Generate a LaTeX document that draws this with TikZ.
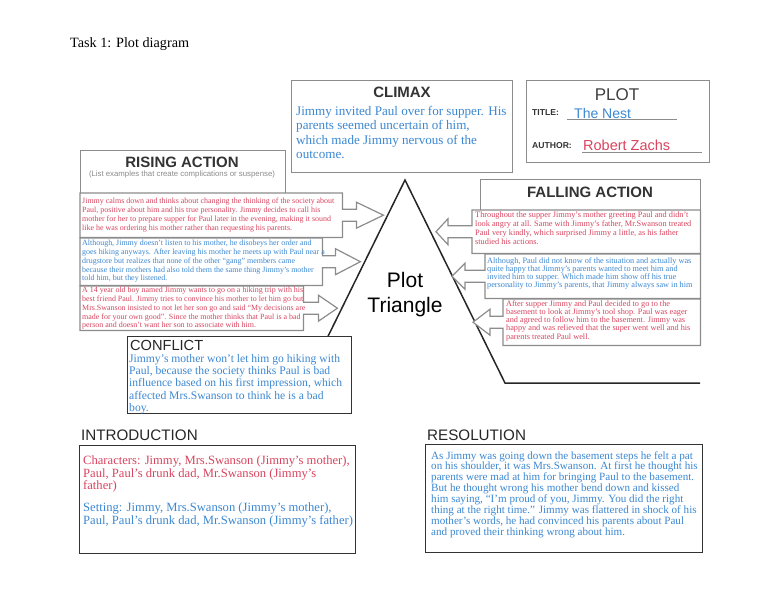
\documentclass[tikz,border=0pt]{standalone}
\usepackage{fontspec}
\setmainfont{Liberation Serif}
\setsansfont{Liberation Sans}
\usetikzlibrary{calc}
\definecolor{tred}{HTML}{D8445E}
\definecolor{tblue}{HTML}{3C88D2}
\definecolor{bgray}{HTML}{8C8C8C}
\definecolor{hgray}{HTML}{333333}
\newcommand\rcall[3]{%
 \draw[gline] (#1.north west) -- (#1.north east) -- ($(#1.east)+(0,-6)$) -- ++(#2,0) -- ++(0,-7) -- ($(#1.east)+(#2+#3,0)$) -- ($(#1.east)+(#2,13)$) -- ++(0,-7) -- ($(#1.east)+(0,6)$) -- (#1.south east) -- (#1.south west) -- cycle;}
\newcommand\lcall[3]{%
 \draw[gline] (#1.north east) -- (#1.north west) -- ($(#1.west)+(0,-6)$) -- ++(-#2,0) -- ++(0,-7) -- ($(#1.west)+(-#2-#3,0)$) -- ($(#1.west)+(-#2,13)$) -- ++(0,-7) -- ($(#1.west)+(0,6)$) -- (#1.south west) -- (#1.south east) -- cycle;}
\begin{document}
\begin{tikzpicture}[x=1pt,y=-1pt,
  gbox/.style={draw=bgray, line width=1.2pt, fill=white, anchor=north west, inner sep=0pt},
  gline/.style={draw=bgray, line width=1.2pt, fill=white},
  kbox/.style={draw=black!80, line width=1.4pt, fill=white, anchor=north west, inner sep=0pt},
  hole/.style={draw=none, anchor=north west, inner sep=0pt},
  txt/.style={anchor=north west, align=left, inner sep=0pt},
  head/.style={font=\sffamily\bfseries\fontsize{15}{15}\selectfont, text=hgray, inner sep=0pt},
  lab/.style={font=\sffamily\fontsize{15.2}{15}\selectfont, text=black!85, inner sep=0pt, anchor=base west},
  tri/.style={draw=black!85, line width=1.5pt},
]
\useasboundingbox (0,0) rectangle (768,594);

\node[anchor=base west, inner sep=0pt, font=\fontsize{14.2}{16}\selectfont] (title) at (70,48) {Task 1: Plot diagram};

% triangle
\coordinate (apex) at (405,180);
\coordinate (lb) at (305,383);
\coordinate (rb) at (505,383);
\coordinate (re) at (700,383);
\draw[tri] (lb) -- (apex) -- (rb) -- (re);
\node[align=center, inner sep=0pt, font=\sffamily\fontsize{21}{25}\selectfont] (ptri) at (405,295) {Plot\\Triangle};

% climax
\node[gbox, minimum width=221pt, minimum height=92pt] (climax) at (291,80) {};
\node[head] (climaxh) at (402,92) {CLIMAX};
\node[txt, text=tblue, font=\fontsize{13.1}{14.5}\selectfont] (climaxt) at (296,106) {Jimmy invited Paul over for supper. His\\parents seemed uncertain of him,\\which made Jimmy nervous of the\\outcome.};

% plot box
\node[gbox, minimum width=183pt, minimum height=82pt] (plotbox) at (526,80) {};
\node[inner sep=0pt, font=\sffamily\fontsize{17}{17}\selectfont, text=black!75] (plot) at (617,95) {PLOT};
\node[anchor=west, inner sep=0pt, font=\sffamily\bfseries\fontsize{8.6}{9}\selectfont, text=hgray] (ttl) at (532,113) {TITLE:};
\node[anchor=west, inner sep=0pt, font=\sffamily\fontsize{14}{14}\selectfont, text=tblue] (tnest) at (574,113) {The Nest};
\coordinate (u1a) at (567,119); \coordinate (u1b) at (677,119);
\draw[bgray, line width=0.9pt] (u1a) -- (u1b);
\node[anchor=west, inner sep=0pt, font=\sffamily\bfseries\fontsize{8.6}{9}\selectfont, text=hgray] (auth) at (532,146) {AUTHOR:};
\node[anchor=west, inner sep=0pt, font=\sffamily\fontsize{14.5}{14}\selectfont, text=tred] (rz) at (583,145) {Robert Zachs};
\coordinate (u2a) at (582,152); \coordinate (u2b) at (702,152);
\draw[bgray, line width=0.9pt] (u2a) -- (u2b);

% rising action
\node[gbox, minimum width=205pt, minimum height=43pt] (rhead) at (80,150) {};
\node[head] (rheadt) at (182,162) {RISING ACTION};
\node[inner sep=0pt, font=\sffamily\fontsize{7.8}{8}\selectfont, text=black!45] (rsub) at (182,174) {(List examples that create complications or suspense)};

\node[hole, minimum width=262pt, minimum height=44pt] (r1) at (80,193) {};
\rcall{r1}{14}{27}
\node[txt, text=tred, font=\fontsize{7.95}{9}\selectfont] (r1t) at (82,198) {Jimmy calms down and thinks about changing the thinking of the society about\\Paul, positive about him and his true personality. Jimmy decides to call his\\mother for her to prepare supper for Paul later in the evening, making it sound\\like he was ordering his mother rather than requesting his parents.};

\node[hole, minimum width=242pt, minimum height=47pt] (r2) at (80,238) {};
\rcall{r2}{13}{25}
\node[txt, text=tblue, font=\fontsize{7.95}{8.8}\selectfont] (r2t) at (82,240) {Although, Jimmy doesn’t listen to his mother, he disobeys her order and\\goes hiking anyways. After leaving his mother he meets up with Paul near a\\drugstore but realizes that none of the other “gang” members came\\because their mothers had also told them the same thing Jimmy’s mother\\told him, but they listened.};

\node[hole, minimum width=223pt, minimum height=44pt] (r3) at (80,286) {};
\rcall{r3}{15}{19}
\node[txt, text=tred, font=\fontsize{7.95}{8.8}\selectfont] (r3t) at (82,287) {A 14 year old boy named Jimmy wants to go on a hiking trip with his\\best friend Paul. Jimmy tries to convince his mother to let him go but\\Mrs.Swanson insisted to not let her son go and said “My decisions are\\made for your own good”. Since the mother thinks that Paul is a bad\\person and doesn’t want her son to associate with him.};

% falling action
\node[gbox, minimum width=220pt, minimum height=31pt] (fhead) at (480,179) {};
\node[head] (fheadt) at (590,192) {FALLING ACTION};

\node[hole, minimum width=228pt, minimum height=43pt] (f1) at (472,210) {};
\lcall{f1}{24}{12}
\node[txt, text=tred, font=\fontsize{8.3}{9}\selectfont] (f1t) at (475,212) {Throughout the supper Jimmy’s mother greeting Paul and didn’t\\look angry at all. Same with  Jimmy’s father, Mr.Swanson treated\\Paul very kindly, which surprised Jimmy a little, as his father\\studied his actions.};

\node[hole, minimum width=215pt, minimum height=44pt] (f2) at (485,254) {};
\lcall{f2}{20}{13}
\node[txt, text=tblue, font=\fontsize{8.25}{8.3}\selectfont] (f2t) at (487,257) {Although, Paul did not know of the situation and actually was\\quite happy that Jimmy’s parents wanted to meet him and\\invited him to supper. Which made him show off his true\\personality to Jimmy’s parents, that Jimmy always saw in him};

\node[hole, minimum width=197pt, minimum height=46pt] (f3) at (503,299) {};
\lcall{f3}{13}{17}
\node[txt, text=tred, font=\fontsize{8.25}{8.3}\selectfont] (f3t) at (506,300) {After supper Jimmy and Paul decided to go to the\\basement to look at Jimmy’s tool shop. Paul was eager\\and agreed to follow him to the basement. Jimmy was\\happy and was relieved that the super went well and his\\parents treated Paul well.};

% conflict
\node[kbox, minimum width=224pt, minimum height=77pt] (conf) at (127,336) {};
\node[lab, font=\sffamily\fontsize{14.6}{15}\selectfont] (confh) at (130,350) {CONFLICT};
\node[txt, text=tblue, font=\fontsize{11.6}{12.1}\selectfont] (conft) at (129,354.5) {Jimmy’s mother won’t let him go hiking with\\Paul, because the society thinks Paul is bad\\influence based on his first impression, which\\affected Mrs.Swanson to think he is a bad\\boy.};

% introduction
\node[lab] (introh) at (81,440) {INTRODUCTION};
\node[kbox, minimum width=276pt, minimum height=108pt] (intro) at (79,445) {};
\node[txt, text=tred, font=\fontsize{12.6}{12.2}\selectfont] (introa) at (83,456) {Characters: Jimmy, Mrs.Swanson (Jimmy’s mother),\\Paul, Paul’s drunk dad, Mr.Swanson (Jimmy’s\\father)};
\node[txt, text=tblue, font=\fontsize{12.6}{12.2}\selectfont] (introb) at (83,503) {Setting: Jimmy, Mrs.Swanson (Jimmy’s mother),\\Paul, Paul’s drunk dad, Mr.Swanson (Jimmy’s father)};

% resolution
\node[lab] (resh) at (427,440) {RESOLUTION};
\node[kbox, minimum width=277pt, minimum height=108pt] (res) at (425,444) {};
\node[txt, text=tblue, font=\fontsize{11.1}{10.9}\selectfont] (rest) at (431,451) {As Jimmy was going down the basement steps he felt a pat\\on his shoulder, it was Mrs.Swanson. At first he thought his\\parents were mad at him for bringing Paul to the basement.\\But he thought wrong his mother bend down and kissed\\him saying, “I’m proud of you, Jimmy. You did the right\\thing at the right time.” Jimmy was flattered in shock of his\\mother’s words, he had convinced his parents about Paul\\and proved their thinking wrong about him.};
\end{tikzpicture}
\end{document}
